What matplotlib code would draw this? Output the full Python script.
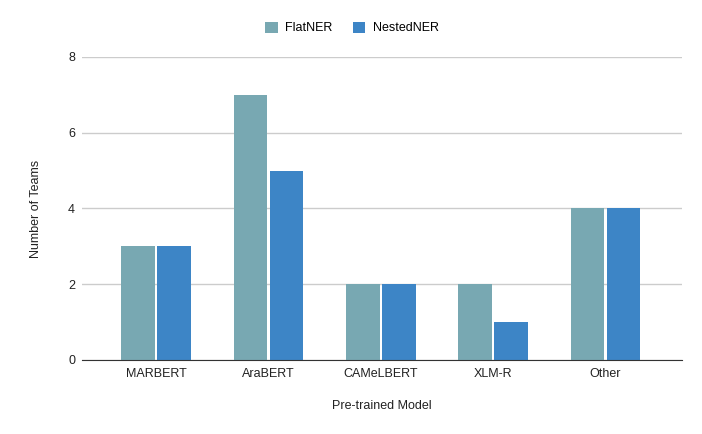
import matplotlib
matplotlib.use("Agg")
import matplotlib.pyplot as plt
import numpy as np

categories = ["MARBERT", "AraBERT", "CAMeLBERT", "XLM-R", "Other"]
flat_ner = [3, 7, 2, 2, 4]
nested_ner = [3, 5, 2, 1, 4]
yticks = [0, 2, 4, 6, 8]

plt.rcParams['font.family'] = ['Liberation Sans', 'DejaVu Sans']

fig = plt.figure(figsize=(7.02, 4.34), dpi=100)
ax = fig.add_axes([82/702, 1-360/434, 600/702, 303/434])

x = np.arange(len(categories))
w = 0.30
gap = 0.01
ax.bar(x - w/2 - gap, flat_ner, width=w, color="#78A8B2", label="FlatNER", zorder=3)
ax.bar(x + w/2 + gap, nested_ner, width=w, color="#3D85C6", label="NestedNER", zorder=3)

ax.set_xlim(-0.66, 4.68)
ax.set_ylim(0, 8)
ax.set_yticks(yticks)
ax.set_yticklabels([str(v) for v in yticks])
ax.set_xticks(x)
ax.set_xticklabels(categories)
ax.tick_params(axis='both', length=0, labelsize=9, colors="#222222")
ax.tick_params(axis='x', pad=6)
ax.tick_params(axis='y', pad=5)
ax.grid(axis='y', color="#cccccc", linewidth=1, zorder=0)
for s in ["top", "right", "left"]:
    ax.spines[s].set_visible(False)
ax.spines["bottom"].set_color("#333333")
ax.spines["bottom"].set_zorder(4)

ax.set_xlabel("Pre-trained Model", fontsize=9, color="#222222", labelpad=14)
ax.set_ylabel("Number of Teams", fontsize=9, color="#222222", labelpad=19)

fig.legend(*ax.get_legend_handles_labels(), loc="center", bbox_to_anchor=(352/702, 1-28/434),
           ncol=2, frameon=False, fontsize=9, handlelength=1.0, handleheight=1.0,
           columnspacing=1.6, handletextpad=0.6)

fig.savefig("out.png", dpi=100)
